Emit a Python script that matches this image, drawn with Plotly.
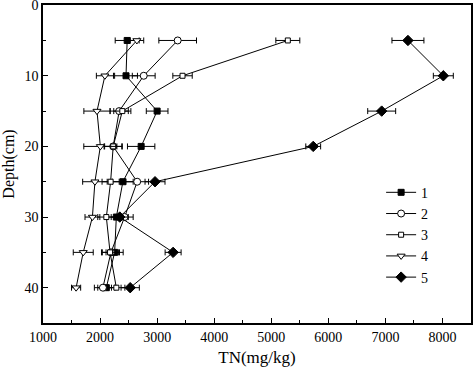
import plotly.graph_objects as go

depth = [5, 10, 15, 20, 25, 30, 35, 40]

s1 = [2475, 2455, 3000, 2720, 2400, 2285, 2255, 2110]
e1 = [210, 200, 190, 240, 180, 150, 150, 150]
s2 = [3360, 2765, 2335, 2230, 2650, 2430, 2190, 2050]
e2 = [330, 200, 160, 160, 200, 150, 150, 150]
s3 = [5290, 3445, 2390, 2230, 2185, 2110, 2175, 2285]
e3 = [210, 170, 150, 150, 150, 150, 150, 150]
s4 = [2645, 2085, 1946, 2005, 1910, 1866, 1705, 1580]
e4 = [120, 150, 230, 290, 215, 130, 175, 80]
s5 = [7395, 8015, 6935, 5735, 2963, 2345, 3280, 2528]
e5 = [280, 175, 245, 130, 175, 150, 140, 160]

names = ["1", "2", "3", "4", "5"]
symbols = ["square", "circle", "square", "triangle-down", "diamond"]
fills = ["black", "white", "white", "white", "black"]
sizes = [6, 7, 5, 7, 8]
series = [(s1, e1), (s2, e2), (s3, e3), (s4, e4), (s5, e5)]

fig = go.Figure()
for name, sym, fc, sz, (vals, errs) in zip(names, symbols, fills, sizes, series):
    fig.add_trace(go.Scatter(
        x=vals, y=depth, name=name, mode="lines+markers",
        line=dict(color="black", width=1),
        marker=dict(symbol=sym, size=sz, color=fc,
                    line=dict(color="black", width=1)),
        error_x=dict(type="data", array=errs, visible=True, color="black",
                     thickness=1, width=3),
    ))

font = "Liberation Serif"
fig.update_layout(
    width=474, height=371,
    margin=dict(l=43, r=3, t=5, b=48),
    paper_bgcolor="white", plot_bgcolor="white",
    font=dict(family=font, size=14, color="black"),
    showlegend=True,
    legend=dict(x=0.79, y=0.46, xanchor="left", yanchor="top",
                bgcolor="rgba(0,0,0,0)", font=dict(size=14, family=font),
                tracegroupgap=0, itemwidth=30),
)
fig.update_xaxes(
    range=[1000, 8500], tickvals=[1000, 2000, 3000, 4000, 5000, 6000, 7000, 8000],
    showline=True, linecolor="black", linewidth=1.5, mirror=True,
    ticks="inside", ticklen=5, tickcolor="black",
    minor=dict(ticks="inside", ticklen=3, dtick=500, tickcolor="black"),
    showgrid=False, zeroline=False, automargin=False,
    title=dict(text="TN(mg/kg)", font=dict(size=17, family=font), standoff=8),
    tickfont=dict(size=14, family=font),
)
fig.update_yaxes(
    range=[45, -0.02], tickvals=[0, 10, 20, 30, 40],
    showline=True, linecolor="black", linewidth=1.5, mirror=True,
    ticks="inside", ticklen=5, tickcolor="black",
    minor=dict(ticks="inside", ticklen=3, dtick=5, tick0=0, tickcolor="black"),
    showgrid=False, zeroline=False, automargin=False,
    ticklabeloverflow="allow",
    title=dict(text="Depth(cm)", font=dict(size=16, family=font), standoff=6),
    tickfont=dict(size=14, family=font),
)
fig.write_html("out.html", config={"displayModeBar": False},
               post_script="document.body.style.margin='0';")
